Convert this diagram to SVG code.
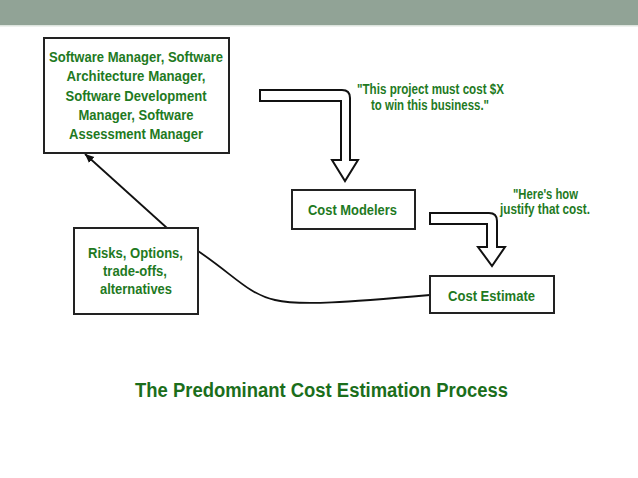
<svg xmlns="http://www.w3.org/2000/svg" width="638" height="478" viewBox="0 0 638 478">
<style>
.box{fill:#fff;stroke:#222;stroke-width:2}
.t{font-family:"Liberation Sans",Arial,sans-serif;font-weight:bold;font-size:14.8px;fill:#1f7a1f}
.title{font-family:"Liberation Sans",Arial,sans-serif;font-weight:bold;font-size:20px;fill:#1b6e1b}
.hollow{fill:#fff;stroke:#111;stroke-width:2;stroke-linejoin:miter}
.conn{fill:none;stroke:#111;stroke-width:1.8}
</style>
<defs>
<marker id="ah" markerWidth="10" markerHeight="10" refX="9" refY="5" orient="auto" markerUnits="userSpaceOnUse">
<path d="M0,1 L9,5 L0,9 z" fill="#111"/>
</marker>
</defs>
<rect x="0" y="0" width="638" height="478" fill="#fff"/>
<rect x="0" y="0" width="638" height="25" fill="#91a396"/>
<rect x="0" y="25" width="638" height="1.5" fill="#dde4de"/>

<g id="connectors">
<path class="conn" d="M167,228 Q125,190 85,154" marker-end="url(#ah)"/>
<path class="conn" d="M198,251 C235,276 248,294 275,300 C300,306 350,302 430,295"/>
<path id="arrow1" class="hollow" d="M260,90 L342,90 Q350,90 350,98 L350,160 L358,160 L345,181 L332,160 L341,160 L341,101 L260,101 Z"/>
<path id="arrow2" class="hollow" d="M430,213 L489,213 Q497,213 497,221 L497,247 L505,247 L492,266 L478,247 L487,247 L487,224 L430,224 Z"/>
</g>

<g id="managers">
<rect class="box" x="44" y="38" width="185" height="115"/>
<text class="t" text-anchor="middle" x="136" y="62" textLength="174" lengthAdjust="spacingAndGlyphs">Software Manager, Software</text>
<text class="t" text-anchor="middle" x="136" y="81" textLength="139" lengthAdjust="spacingAndGlyphs">Architecture Manager,</text>
<text class="t" text-anchor="middle" x="136" y="100.5" textLength="141" lengthAdjust="spacingAndGlyphs">Software Development</text>
<text class="t" text-anchor="middle" x="136" y="119.5" textLength="115" lengthAdjust="spacingAndGlyphs">Manager, Software</text>
<text class="t" text-anchor="middle" x="136" y="138.5" textLength="134" lengthAdjust="spacingAndGlyphs">Assessment Manager</text>
</g>

<g id="quote1">
<text class="t" text-anchor="middle" x="430.5" y="94" textLength="147" lengthAdjust="spacingAndGlyphs">"This project must cost $X</text>
<text class="t" text-anchor="middle" x="430" y="110" textLength="118" lengthAdjust="spacingAndGlyphs">to win this business."</text>
</g>

<g id="cost-modelers">
<rect class="box" x="292" y="190" width="123" height="39"/>
<text class="t" text-anchor="middle" x="352.5" y="215" textLength="89" lengthAdjust="spacingAndGlyphs">Cost Modelers</text>
</g>

<g id="quote2">
<text class="t" text-anchor="middle" x="545.5" y="199" textLength="65" lengthAdjust="spacingAndGlyphs">"Here's how</text>
<text class="t" text-anchor="middle" x="545" y="214" textLength="90" lengthAdjust="spacingAndGlyphs">justify that cost.</text>
</g>

<g id="cost-estimate">
<rect class="box" x="430" y="276" width="124" height="37"/>
<text class="t" text-anchor="middle" x="491.5" y="300.5" textLength="87" lengthAdjust="spacingAndGlyphs" style="font-size:15.5px">Cost Estimate</text>
</g>

<g id="risks">
<rect class="box" x="74" y="228" width="124" height="86"/>
<text class="t" text-anchor="middle" x="135.5" y="257.5" textLength="95" lengthAdjust="spacingAndGlyphs">Risks, Options,</text>
<text class="t" text-anchor="middle" x="135" y="276" textLength="64" lengthAdjust="spacingAndGlyphs">trade-offs,</text>
<text class="t" text-anchor="middle" x="136" y="294" textLength="72" lengthAdjust="spacingAndGlyphs">alternatives</text>
</g>

<text class="title" text-anchor="middle" x="321.5" y="397" textLength="373" lengthAdjust="spacingAndGlyphs">The Predominant Cost Estimation Process</text>
</svg>
